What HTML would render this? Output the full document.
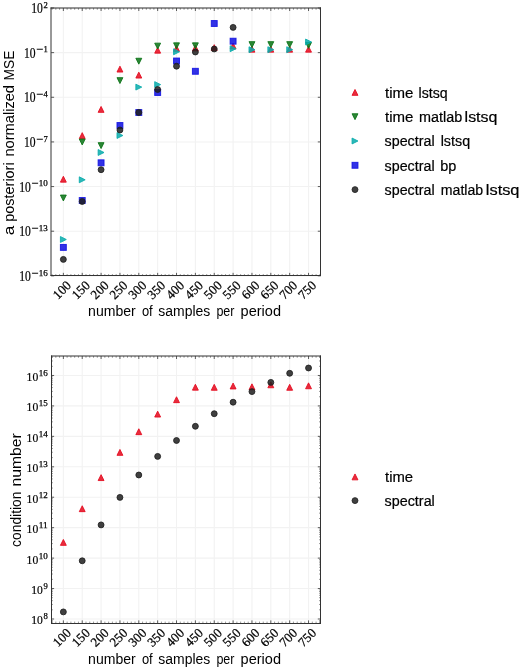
<!DOCTYPE html>
<html><head><meta charset="utf-8"><title>plot</title>
<style>html,body{margin:0;padding:0;background:#fff}svg{display:block}</style></head>
<body><svg width="520" height="669" viewBox="0 0 520 669">
<rect width="520" height="669" fill="#fff"/>
<line x1="63.36" y1="8.0" x2="63.36" y2="275.85" stroke="#f2f2f2" stroke-width="1.1"/>
<line x1="82.22" y1="8.0" x2="82.22" y2="275.85" stroke="#f2f2f2" stroke-width="1.1"/>
<line x1="101.08" y1="8.0" x2="101.08" y2="275.85" stroke="#f2f2f2" stroke-width="1.1"/>
<line x1="119.94" y1="8.0" x2="119.94" y2="275.85" stroke="#f2f2f2" stroke-width="1.1"/>
<line x1="138.80" y1="8.0" x2="138.80" y2="275.85" stroke="#f2f2f2" stroke-width="1.1"/>
<line x1="157.66" y1="8.0" x2="157.66" y2="275.85" stroke="#f2f2f2" stroke-width="1.1"/>
<line x1="176.52" y1="8.0" x2="176.52" y2="275.85" stroke="#f2f2f2" stroke-width="1.1"/>
<line x1="195.38" y1="8.0" x2="195.38" y2="275.85" stroke="#f2f2f2" stroke-width="1.1"/>
<line x1="214.24" y1="8.0" x2="214.24" y2="275.85" stroke="#f2f2f2" stroke-width="1.1"/>
<line x1="233.10" y1="8.0" x2="233.10" y2="275.85" stroke="#f2f2f2" stroke-width="1.1"/>
<line x1="251.96" y1="8.0" x2="251.96" y2="275.85" stroke="#f2f2f2" stroke-width="1.1"/>
<line x1="270.82" y1="8.0" x2="270.82" y2="275.85" stroke="#f2f2f2" stroke-width="1.1"/>
<line x1="289.68" y1="8.0" x2="289.68" y2="275.85" stroke="#f2f2f2" stroke-width="1.1"/>
<line x1="308.54" y1="8.0" x2="308.54" y2="275.85" stroke="#f2f2f2" stroke-width="1.1"/>
<line x1="51.1" y1="8.00" x2="320.8" y2="8.00" stroke="#f2f2f2" stroke-width="1.1"/>
<line x1="51.1" y1="52.64" x2="320.8" y2="52.64" stroke="#f2f2f2" stroke-width="1.1"/>
<line x1="51.1" y1="97.28" x2="320.8" y2="97.28" stroke="#f2f2f2" stroke-width="1.1"/>
<line x1="51.1" y1="141.93" x2="320.8" y2="141.93" stroke="#f2f2f2" stroke-width="1.1"/>
<line x1="51.1" y1="186.57" x2="320.8" y2="186.57" stroke="#f2f2f2" stroke-width="1.1"/>
<line x1="51.1" y1="231.21" x2="320.8" y2="231.21" stroke="#f2f2f2" stroke-width="1.1"/>
<line x1="51.1" y1="275.85" x2="320.8" y2="275.85" stroke="#f2f2f2" stroke-width="1.1"/>
<polygon points="63.36,176.25 60.41,182.15 66.31,182.15" fill="#e4081c" fill-opacity="0.85" stroke="#e4081c" stroke-opacity="0.85" stroke-width="1"/>
<polygon points="82.22,132.65 79.27,138.55 85.17,138.55" fill="#e4081c" fill-opacity="0.85" stroke="#e4081c" stroke-opacity="0.85" stroke-width="1"/>
<polygon points="101.08,106.45 98.13,112.35 104.03,112.35" fill="#e4081c" fill-opacity="0.85" stroke="#e4081c" stroke-opacity="0.85" stroke-width="1"/>
<polygon points="119.94,66.15 116.99,72.05 122.89,72.05" fill="#e4081c" fill-opacity="0.85" stroke="#e4081c" stroke-opacity="0.85" stroke-width="1"/>
<polygon points="138.80,72.15 135.85,78.05 141.75,78.05" fill="#e4081c" fill-opacity="0.85" stroke="#e4081c" stroke-opacity="0.85" stroke-width="1"/>
<polygon points="157.66,47.25 154.71,53.15 160.61,53.15" fill="#e4081c" fill-opacity="0.85" stroke="#e4081c" stroke-opacity="0.85" stroke-width="1"/>
<polygon points="176.52,45.45 173.57,51.35 179.47,51.35" fill="#e4081c" fill-opacity="0.85" stroke="#e4081c" stroke-opacity="0.85" stroke-width="1"/>
<polygon points="195.38,45.05 192.43,50.95 198.33,50.95" fill="#e4081c" fill-opacity="0.85" stroke="#e4081c" stroke-opacity="0.85" stroke-width="1"/>
<polygon points="214.24,44.65 211.29,50.55 217.19,50.55" fill="#e4081c" fill-opacity="0.85" stroke="#e4081c" stroke-opacity="0.85" stroke-width="1"/>
<polygon points="233.10,43.05 230.15,48.95 236.05,48.95" fill="#e4081c" fill-opacity="0.85" stroke="#e4081c" stroke-opacity="0.85" stroke-width="1"/>
<polygon points="251.96,46.25 249.01,52.15 254.91,52.15" fill="#e4081c" fill-opacity="0.85" stroke="#e4081c" stroke-opacity="0.85" stroke-width="1"/>
<polygon points="270.82,46.25 267.87,52.15 273.77,52.15" fill="#e4081c" fill-opacity="0.85" stroke="#e4081c" stroke-opacity="0.85" stroke-width="1"/>
<polygon points="289.68,46.25 286.73,52.15 292.63,52.15" fill="#e4081c" fill-opacity="0.85" stroke="#e4081c" stroke-opacity="0.85" stroke-width="1"/>
<polygon points="308.54,46.25 305.59,52.15 311.49,52.15" fill="#e4081c" fill-opacity="0.85" stroke="#e4081c" stroke-opacity="0.85" stroke-width="1"/>
<polygon points="63.36,200.95 60.41,195.05 66.31,195.05" fill="#087214" fill-opacity="0.85" stroke="#087214" stroke-opacity="0.85" stroke-width="1"/>
<polygon points="82.22,144.95 79.27,139.05 85.17,139.05" fill="#087214" fill-opacity="0.85" stroke="#087214" stroke-opacity="0.85" stroke-width="1"/>
<polygon points="101.08,148.55 98.13,142.65 104.03,142.65" fill="#087214" fill-opacity="0.85" stroke="#087214" stroke-opacity="0.85" stroke-width="1"/>
<polygon points="119.94,83.55 116.99,77.65 122.89,77.65" fill="#087214" fill-opacity="0.85" stroke="#087214" stroke-opacity="0.85" stroke-width="1"/>
<polygon points="138.80,64.15 135.85,58.25 141.75,58.25" fill="#087214" fill-opacity="0.85" stroke="#087214" stroke-opacity="0.85" stroke-width="1"/>
<polygon points="157.66,49.05 154.71,43.15 160.61,43.15" fill="#087214" fill-opacity="0.85" stroke="#087214" stroke-opacity="0.85" stroke-width="1"/>
<polygon points="176.52,48.75 173.57,42.85 179.47,42.85" fill="#087214" fill-opacity="0.85" stroke="#087214" stroke-opacity="0.85" stroke-width="1"/>
<polygon points="195.38,48.75 192.43,42.85 198.33,42.85" fill="#087214" fill-opacity="0.85" stroke="#087214" stroke-opacity="0.85" stroke-width="1"/>
<polygon points="251.96,47.55 249.01,41.65 254.91,41.65" fill="#087214" fill-opacity="0.85" stroke="#087214" stroke-opacity="0.85" stroke-width="1"/>
<polygon points="270.82,47.55 267.87,41.65 273.77,41.65" fill="#087214" fill-opacity="0.85" stroke="#087214" stroke-opacity="0.85" stroke-width="1"/>
<polygon points="289.68,47.55 286.73,41.65 292.63,41.65" fill="#087214" fill-opacity="0.85" stroke="#087214" stroke-opacity="0.85" stroke-width="1"/>
<polygon points="308.54,48.35 305.59,42.45 311.49,42.45" fill="#087214" fill-opacity="0.85" stroke="#087214" stroke-opacity="0.85" stroke-width="1"/>
<polygon points="66.31,239.50 60.41,236.55 60.41,242.45" fill="#08acac" fill-opacity="0.85" stroke="#08acac" stroke-opacity="0.85" stroke-width="1"/>
<polygon points="85.17,179.80 79.27,176.85 79.27,182.75" fill="#08acac" fill-opacity="0.85" stroke="#08acac" stroke-opacity="0.85" stroke-width="1"/>
<polygon points="104.03,152.50 98.13,149.55 98.13,155.45" fill="#08acac" fill-opacity="0.85" stroke="#08acac" stroke-opacity="0.85" stroke-width="1"/>
<polygon points="122.89,135.50 116.99,132.55 116.99,138.45" fill="#08acac" fill-opacity="0.85" stroke="#08acac" stroke-opacity="0.85" stroke-width="1"/>
<polygon points="141.75,87.10 135.85,84.15 135.85,90.05" fill="#08acac" fill-opacity="0.85" stroke="#08acac" stroke-opacity="0.85" stroke-width="1"/>
<polygon points="160.61,84.60 154.71,81.65 154.71,87.55" fill="#08acac" fill-opacity="0.85" stroke="#08acac" stroke-opacity="0.85" stroke-width="1"/>
<polygon points="179.47,51.80 173.57,48.85 173.57,54.75" fill="#08acac" fill-opacity="0.85" stroke="#08acac" stroke-opacity="0.85" stroke-width="1"/>
<polygon points="236.05,48.70 230.15,45.75 230.15,51.65" fill="#08acac" fill-opacity="0.85" stroke="#08acac" stroke-opacity="0.85" stroke-width="1"/>
<polygon points="254.91,49.70 249.01,46.75 249.01,52.65" fill="#08acac" fill-opacity="0.85" stroke="#08acac" stroke-opacity="0.85" stroke-width="1"/>
<polygon points="273.77,49.70 267.87,46.75 267.87,52.65" fill="#08acac" fill-opacity="0.85" stroke="#08acac" stroke-opacity="0.85" stroke-width="1"/>
<polygon points="292.63,49.70 286.73,46.75 286.73,52.65" fill="#08acac" fill-opacity="0.85" stroke="#08acac" stroke-opacity="0.85" stroke-width="1"/>
<polygon points="311.49,42.00 305.59,39.05 305.59,44.95" fill="#08acac" fill-opacity="0.85" stroke="#08acac" stroke-opacity="0.85" stroke-width="1"/>
<rect x="60.41" y="244.45" width="5.90" height="5.90" fill="#0e0ee2" fill-opacity="0.85" stroke="#0e0ee2" stroke-opacity="0.85" stroke-width="1"/>
<rect x="79.27" y="197.55" width="5.90" height="5.90" fill="#0e0ee2" fill-opacity="0.85" stroke="#0e0ee2" stroke-opacity="0.85" stroke-width="1"/>
<rect x="98.13" y="159.85" width="5.90" height="5.90" fill="#0e0ee2" fill-opacity="0.85" stroke="#0e0ee2" stroke-opacity="0.85" stroke-width="1"/>
<rect x="116.99" y="122.55" width="5.90" height="5.90" fill="#0e0ee2" fill-opacity="0.85" stroke="#0e0ee2" stroke-opacity="0.85" stroke-width="1"/>
<rect x="135.85" y="109.55" width="5.90" height="5.90" fill="#0e0ee2" fill-opacity="0.85" stroke="#0e0ee2" stroke-opacity="0.85" stroke-width="1"/>
<rect x="154.71" y="89.55" width="5.90" height="5.90" fill="#0e0ee2" fill-opacity="0.85" stroke="#0e0ee2" stroke-opacity="0.85" stroke-width="1"/>
<rect x="173.57" y="58.05" width="5.90" height="5.90" fill="#0e0ee2" fill-opacity="0.85" stroke="#0e0ee2" stroke-opacity="0.85" stroke-width="1"/>
<rect x="192.43" y="68.35" width="5.90" height="5.90" fill="#0e0ee2" fill-opacity="0.85" stroke="#0e0ee2" stroke-opacity="0.85" stroke-width="1"/>
<rect x="211.29" y="20.55" width="5.90" height="5.90" fill="#0e0ee2" fill-opacity="0.85" stroke="#0e0ee2" stroke-opacity="0.85" stroke-width="1"/>
<rect x="230.15" y="38.25" width="5.90" height="5.90" fill="#0e0ee2" fill-opacity="0.85" stroke="#0e0ee2" stroke-opacity="0.85" stroke-width="1"/>
<circle cx="63.36" cy="259.40" r="2.95" fill="#1f1f1f" fill-opacity="0.85" stroke="#1f1f1f" stroke-opacity="0.85" stroke-width="1"/>
<circle cx="82.22" cy="201.50" r="2.95" fill="#1f1f1f" fill-opacity="0.85" stroke="#1f1f1f" stroke-opacity="0.85" stroke-width="1"/>
<circle cx="101.08" cy="169.70" r="2.95" fill="#1f1f1f" fill-opacity="0.85" stroke="#1f1f1f" stroke-opacity="0.85" stroke-width="1"/>
<circle cx="119.94" cy="130.00" r="2.95" fill="#1f1f1f" fill-opacity="0.85" stroke="#1f1f1f" stroke-opacity="0.85" stroke-width="1"/>
<circle cx="138.80" cy="112.50" r="2.95" fill="#1f1f1f" fill-opacity="0.85" stroke="#1f1f1f" stroke-opacity="0.85" stroke-width="1"/>
<circle cx="157.66" cy="89.50" r="2.95" fill="#1f1f1f" fill-opacity="0.85" stroke="#1f1f1f" stroke-opacity="0.85" stroke-width="1"/>
<circle cx="176.52" cy="66.20" r="2.95" fill="#1f1f1f" fill-opacity="0.85" stroke="#1f1f1f" stroke-opacity="0.85" stroke-width="1"/>
<circle cx="195.38" cy="52.00" r="2.95" fill="#1f1f1f" fill-opacity="0.85" stroke="#1f1f1f" stroke-opacity="0.85" stroke-width="1"/>
<circle cx="214.24" cy="49.00" r="2.95" fill="#1f1f1f" fill-opacity="0.85" stroke="#1f1f1f" stroke-opacity="0.85" stroke-width="1"/>
<circle cx="233.10" cy="27.40" r="2.95" fill="#1f1f1f" fill-opacity="0.85" stroke="#1f1f1f" stroke-opacity="0.85" stroke-width="1"/>
<path d="M63.36 275.85v-3M63.36 8.0v3M82.22 275.85v-3M82.22 8.0v3M101.08 275.85v-3M101.08 8.0v3M119.94 275.85v-3M119.94 8.0v3M138.80 275.85v-3M138.80 8.0v3M157.66 275.85v-3M157.66 8.0v3M176.52 275.85v-3M176.52 8.0v3M195.38 275.85v-3M195.38 8.0v3M214.24 275.85v-3M214.24 8.0v3M233.10 275.85v-3M233.10 8.0v3M251.96 275.85v-3M251.96 8.0v3M270.82 275.85v-3M270.82 8.0v3M289.68 275.85v-3M289.68 8.0v3M308.54 275.85v-3M308.54 8.0v3M51.1 8.00h3M320.8 8.00h-3M51.1 52.64h3M320.8 52.64h-3M51.1 97.28h3M320.8 97.28h-3M51.1 141.93h3M320.8 141.93h-3M51.1 186.57h3M320.8 186.57h-3M51.1 231.21h3M320.8 231.21h-3M51.1 275.85h3M320.8 275.85h-3" stroke="#333" stroke-width="0.8" fill="none"/>
<path d="M52.04 275.85v-1.8M52.04 8.0v1.8M55.82 275.85v-1.8M55.82 8.0v1.8M59.59 275.85v-1.8M59.59 8.0v1.8M67.13 275.85v-1.8M67.13 8.0v1.8M70.90 275.85v-1.8M70.90 8.0v1.8M74.68 275.85v-1.8M74.68 8.0v1.8M78.45 275.85v-1.8M78.45 8.0v1.8M85.99 275.85v-1.8M85.99 8.0v1.8M89.76 275.85v-1.8M89.76 8.0v1.8M93.54 275.85v-1.8M93.54 8.0v1.8M97.31 275.85v-1.8M97.31 8.0v1.8M104.85 275.85v-1.8M104.85 8.0v1.8M108.62 275.85v-1.8M108.62 8.0v1.8M112.40 275.85v-1.8M112.40 8.0v1.8M116.17 275.85v-1.8M116.17 8.0v1.8M123.71 275.85v-1.8M123.71 8.0v1.8M127.48 275.85v-1.8M127.48 8.0v1.8M131.26 275.85v-1.8M131.26 8.0v1.8M135.03 275.85v-1.8M135.03 8.0v1.8M142.57 275.85v-1.8M142.57 8.0v1.8M146.34 275.85v-1.8M146.34 8.0v1.8M150.12 275.85v-1.8M150.12 8.0v1.8M153.89 275.85v-1.8M153.89 8.0v1.8M161.43 275.85v-1.8M161.43 8.0v1.8M165.20 275.85v-1.8M165.20 8.0v1.8M168.98 275.85v-1.8M168.98 8.0v1.8M172.75 275.85v-1.8M172.75 8.0v1.8M180.29 275.85v-1.8M180.29 8.0v1.8M184.06 275.85v-1.8M184.06 8.0v1.8M187.84 275.85v-1.8M187.84 8.0v1.8M191.61 275.85v-1.8M191.61 8.0v1.8M199.15 275.85v-1.8M199.15 8.0v1.8M202.92 275.85v-1.8M202.92 8.0v1.8M206.70 275.85v-1.8M206.70 8.0v1.8M210.47 275.85v-1.8M210.47 8.0v1.8M218.01 275.85v-1.8M218.01 8.0v1.8M221.78 275.85v-1.8M221.78 8.0v1.8M225.56 275.85v-1.8M225.56 8.0v1.8M229.33 275.85v-1.8M229.33 8.0v1.8M236.87 275.85v-1.8M236.87 8.0v1.8M240.64 275.85v-1.8M240.64 8.0v1.8M244.42 275.85v-1.8M244.42 8.0v1.8M248.19 275.85v-1.8M248.19 8.0v1.8M255.73 275.85v-1.8M255.73 8.0v1.8M259.50 275.85v-1.8M259.50 8.0v1.8M263.28 275.85v-1.8M263.28 8.0v1.8M267.05 275.85v-1.8M267.05 8.0v1.8M274.59 275.85v-1.8M274.59 8.0v1.8M278.36 275.85v-1.8M278.36 8.0v1.8M282.14 275.85v-1.8M282.14 8.0v1.8M285.91 275.85v-1.8M285.91 8.0v1.8M293.45 275.85v-1.8M293.45 8.0v1.8M297.22 275.85v-1.8M297.22 8.0v1.8M301.00 275.85v-1.8M301.00 8.0v1.8M304.77 275.85v-1.8M304.77 8.0v1.8M312.31 275.85v-1.8M312.31 8.0v1.8M316.08 275.85v-1.8M316.08 8.0v1.8M319.86 275.85v-1.8M319.86 8.0v1.8" stroke="#555" stroke-width="0.6" fill="none"/>
<path d="M51.0 7.5V276.0M320.5 7.5V276.0M50.5 8.0H321.0M50.5 275.5H321.0" stroke="#333" stroke-width="1" fill="none"/>
<text x="43.40" y="7.70" textLength="4.3" lengthAdjust="spacingAndGlyphs" style="font-family:'Liberation Serif',serif;font-size:9px" stroke="#000" stroke-width="0.25">2</text>
<text x="31.30" y="13.20" textLength="11.6" lengthAdjust="spacingAndGlyphs" style="font-family:'Liberation Serif',serif;font-size:13.6px" stroke="#000" stroke-width="0.2">10</text>
<text x="43.40" y="52.34" textLength="4.3" lengthAdjust="spacingAndGlyphs" style="font-family:'Liberation Serif',serif;font-size:9px" stroke="#000" stroke-width="0.25">1</text>
<text x="36.00" y="52.34" textLength="7.0" lengthAdjust="spacingAndGlyphs" style="font-family:'Liberation Serif',serif;font-size:9px" stroke="#000" stroke-width="0.3">−</text>
<text x="23.90" y="57.84" textLength="11.6" lengthAdjust="spacingAndGlyphs" style="font-family:'Liberation Serif',serif;font-size:13.6px" stroke="#000" stroke-width="0.2">10</text>
<text x="43.40" y="96.98" textLength="4.3" lengthAdjust="spacingAndGlyphs" style="font-family:'Liberation Serif',serif;font-size:9px" stroke="#000" stroke-width="0.25">4</text>
<text x="36.00" y="96.98" textLength="7.0" lengthAdjust="spacingAndGlyphs" style="font-family:'Liberation Serif',serif;font-size:9px" stroke="#000" stroke-width="0.3">−</text>
<text x="23.90" y="102.48" textLength="11.6" lengthAdjust="spacingAndGlyphs" style="font-family:'Liberation Serif',serif;font-size:13.6px" stroke="#000" stroke-width="0.2">10</text>
<text x="43.40" y="141.62" textLength="4.3" lengthAdjust="spacingAndGlyphs" style="font-family:'Liberation Serif',serif;font-size:9px" stroke="#000" stroke-width="0.25">7</text>
<text x="36.00" y="141.62" textLength="7.0" lengthAdjust="spacingAndGlyphs" style="font-family:'Liberation Serif',serif;font-size:9px" stroke="#000" stroke-width="0.3">−</text>
<text x="23.90" y="147.12" textLength="11.6" lengthAdjust="spacingAndGlyphs" style="font-family:'Liberation Serif',serif;font-size:13.6px" stroke="#000" stroke-width="0.2">10</text>
<text x="38.70" y="186.27" textLength="9.0" lengthAdjust="spacingAndGlyphs" style="font-family:'Liberation Serif',serif;font-size:9px" stroke="#000" stroke-width="0.25">10</text>
<text x="31.30" y="186.27" textLength="7.0" lengthAdjust="spacingAndGlyphs" style="font-family:'Liberation Serif',serif;font-size:9px" stroke="#000" stroke-width="0.3">−</text>
<text x="19.20" y="191.77" textLength="11.6" lengthAdjust="spacingAndGlyphs" style="font-family:'Liberation Serif',serif;font-size:13.6px" stroke="#000" stroke-width="0.2">10</text>
<text x="38.70" y="230.91" textLength="9.0" lengthAdjust="spacingAndGlyphs" style="font-family:'Liberation Serif',serif;font-size:9px" stroke="#000" stroke-width="0.25">13</text>
<text x="31.30" y="230.91" textLength="7.0" lengthAdjust="spacingAndGlyphs" style="font-family:'Liberation Serif',serif;font-size:9px" stroke="#000" stroke-width="0.3">−</text>
<text x="19.20" y="236.41" textLength="11.6" lengthAdjust="spacingAndGlyphs" style="font-family:'Liberation Serif',serif;font-size:13.6px" stroke="#000" stroke-width="0.2">10</text>
<text x="38.70" y="275.55" textLength="9.0" lengthAdjust="spacingAndGlyphs" style="font-family:'Liberation Serif',serif;font-size:9px" stroke="#000" stroke-width="0.25">16</text>
<text x="31.30" y="275.55" textLength="7.0" lengthAdjust="spacingAndGlyphs" style="font-family:'Liberation Serif',serif;font-size:9px" stroke="#000" stroke-width="0.3">−</text>
<text x="19.20" y="281.05" textLength="11.6" lengthAdjust="spacingAndGlyphs" style="font-family:'Liberation Serif',serif;font-size:13.6px" stroke="#000" stroke-width="0.2">10</text>
<text transform="translate(61.86,289.95) rotate(-45)" text-anchor="middle" dy="4.4" style="font-family:'Liberation Serif',serif;font-size:13px" stroke="#000" stroke-width="0.25">100</text>
<text transform="translate(80.72,289.95) rotate(-45)" text-anchor="middle" dy="4.4" style="font-family:'Liberation Serif',serif;font-size:13px" stroke="#000" stroke-width="0.25">150</text>
<text transform="translate(99.58,289.95) rotate(-45)" text-anchor="middle" dy="4.4" style="font-family:'Liberation Serif',serif;font-size:13px" stroke="#000" stroke-width="0.25">200</text>
<text transform="translate(118.44,289.95) rotate(-45)" text-anchor="middle" dy="4.4" style="font-family:'Liberation Serif',serif;font-size:13px" stroke="#000" stroke-width="0.25">250</text>
<text transform="translate(137.30,289.95) rotate(-45)" text-anchor="middle" dy="4.4" style="font-family:'Liberation Serif',serif;font-size:13px" stroke="#000" stroke-width="0.25">300</text>
<text transform="translate(156.16,289.95) rotate(-45)" text-anchor="middle" dy="4.4" style="font-family:'Liberation Serif',serif;font-size:13px" stroke="#000" stroke-width="0.25">350</text>
<text transform="translate(175.02,289.95) rotate(-45)" text-anchor="middle" dy="4.4" style="font-family:'Liberation Serif',serif;font-size:13px" stroke="#000" stroke-width="0.25">400</text>
<text transform="translate(193.88,289.95) rotate(-45)" text-anchor="middle" dy="4.4" style="font-family:'Liberation Serif',serif;font-size:13px" stroke="#000" stroke-width="0.25">450</text>
<text transform="translate(212.74,289.95) rotate(-45)" text-anchor="middle" dy="4.4" style="font-family:'Liberation Serif',serif;font-size:13px" stroke="#000" stroke-width="0.25">500</text>
<text transform="translate(231.60,289.95) rotate(-45)" text-anchor="middle" dy="4.4" style="font-family:'Liberation Serif',serif;font-size:13px" stroke="#000" stroke-width="0.25">550</text>
<text transform="translate(250.46,289.95) rotate(-45)" text-anchor="middle" dy="4.4" style="font-family:'Liberation Serif',serif;font-size:13px" stroke="#000" stroke-width="0.25">600</text>
<text transform="translate(269.32,289.95) rotate(-45)" text-anchor="middle" dy="4.4" style="font-family:'Liberation Serif',serif;font-size:13px" stroke="#000" stroke-width="0.25">650</text>
<text transform="translate(288.18,289.95) rotate(-45)" text-anchor="middle" dy="4.4" style="font-family:'Liberation Serif',serif;font-size:13px" stroke="#000" stroke-width="0.25">700</text>
<text transform="translate(307.04,289.95) rotate(-45)" text-anchor="middle" dy="4.4" style="font-family:'Liberation Serif',serif;font-size:13px" stroke="#000" stroke-width="0.25">750</text>
<text x="88.10" y="316.45" textLength="47.70" lengthAdjust="spacingAndGlyphs" style="font-family:'Liberation Sans',sans-serif;font-size:13.8px">number</text>
<text x="141.90" y="316.45" textLength="10.80" lengthAdjust="spacingAndGlyphs" style="font-family:'Liberation Sans',sans-serif;font-size:13.8px">of</text>
<text x="158.30" y="316.45" textLength="52.00" lengthAdjust="spacingAndGlyphs" style="font-family:'Liberation Sans',sans-serif;font-size:13.8px">samples</text>
<text x="216.40" y="316.45" textLength="18.10" lengthAdjust="spacingAndGlyphs" style="font-family:'Liberation Sans',sans-serif;font-size:13.8px">per</text>
<text x="240.60" y="316.45" textLength="40.40" lengthAdjust="spacingAndGlyphs" style="font-family:'Liberation Sans',sans-serif;font-size:13.8px">period</text>
<g transform="translate(13.9,0) rotate(-90)">
<text x="-235.20" y="0" textLength="9.60" lengthAdjust="spacingAndGlyphs" style="font-family:'Liberation Sans',sans-serif;font-size:14.5px">a</text>
<text x="-221.70" y="0" textLength="59.30" lengthAdjust="spacingAndGlyphs" style="font-family:'Liberation Sans',sans-serif;font-size:14.5px">posteriori</text>
<text x="-156.60" y="0" textLength="71.60" lengthAdjust="spacingAndGlyphs" style="font-family:'Liberation Sans',sans-serif;font-size:14.5px">normalized</text>
<text x="-80.40" y="0" textLength="29.90" lengthAdjust="spacingAndGlyphs" style="font-family:'Liberation Sans',sans-serif;font-size:14.5px">MSE</text>
</g>
<polygon points="355.00,89.45 352.05,95.35 357.95,95.35" fill="#e4081c" fill-opacity="0.85" stroke="#e4081c" stroke-opacity="0.85" stroke-width="1"/>
<text x="385.00" y="97.80" textLength="28.40" lengthAdjust="spacingAndGlyphs" style="font-family:'Liberation Sans',sans-serif;font-size:14px" stroke="#000" stroke-width="0.2">time</text>
<text x="418.60" y="97.80" textLength="29.10" lengthAdjust="spacingAndGlyphs" style="font-family:'Liberation Sans',sans-serif;font-size:14px" stroke="#000" stroke-width="0.2">lstsq</text>
<polygon points="355.00,119.65 352.05,113.75 357.95,113.75" fill="#087214" fill-opacity="0.85" stroke="#087214" stroke-opacity="0.85" stroke-width="1"/>
<text x="385.00" y="122.10" textLength="28.40" lengthAdjust="spacingAndGlyphs" style="font-family:'Liberation Sans',sans-serif;font-size:14px" stroke="#000" stroke-width="0.2">time</text>
<text x="419.10" y="122.10" textLength="43.20" lengthAdjust="spacingAndGlyphs" style="font-family:'Liberation Sans',sans-serif;font-size:14px" stroke="#000" stroke-width="0.2">matlab</text>
<text x="464.60" y="122.10" textLength="32.80" lengthAdjust="spacingAndGlyphs" style="font-family:'Liberation Sans',sans-serif;font-size:14px" stroke="#000" stroke-width="0.2">lstsq</text>
<polygon points="357.95,141.00 352.05,138.05 352.05,143.95" fill="#08acac" fill-opacity="0.85" stroke="#08acac" stroke-opacity="0.85" stroke-width="1"/>
<text x="384.60" y="146.40" textLength="50.00" lengthAdjust="spacingAndGlyphs" style="font-family:'Liberation Sans',sans-serif;font-size:14px" stroke="#000" stroke-width="0.2">spectral</text>
<text x="440.70" y="146.40" textLength="29.40" lengthAdjust="spacingAndGlyphs" style="font-family:'Liberation Sans',sans-serif;font-size:14px" stroke="#000" stroke-width="0.2">lstsq</text>
<rect x="352.05" y="162.35" width="5.90" height="5.90" fill="#0e0ee2" fill-opacity="0.85" stroke="#0e0ee2" stroke-opacity="0.85" stroke-width="1"/>
<text x="384.60" y="170.70" textLength="50.00" lengthAdjust="spacingAndGlyphs" style="font-family:'Liberation Sans',sans-serif;font-size:14px" stroke="#000" stroke-width="0.2">spectral</text>
<text x="440.30" y="170.70" textLength="16.10" lengthAdjust="spacingAndGlyphs" style="font-family:'Liberation Sans',sans-serif;font-size:14px" stroke="#000" stroke-width="0.2">bp</text>
<circle cx="355.00" cy="189.60" r="2.95" fill="#1f1f1f" fill-opacity="0.85" stroke="#1f1f1f" stroke-opacity="0.85" stroke-width="1"/>
<text x="384.60" y="195.00" textLength="50.00" lengthAdjust="spacingAndGlyphs" style="font-family:'Liberation Sans',sans-serif;font-size:14px" stroke="#000" stroke-width="0.2">spectral</text>
<text x="440.80" y="195.00" textLength="42.40" lengthAdjust="spacingAndGlyphs" style="font-family:'Liberation Sans',sans-serif;font-size:14px" stroke="#000" stroke-width="0.2">matlab</text>
<text x="485.80" y="195.00" textLength="33.70" lengthAdjust="spacingAndGlyphs" style="font-family:'Liberation Sans',sans-serif;font-size:14px" stroke="#000" stroke-width="0.2">lstsq</text>
<line x1="63.36" y1="356.0" x2="63.36" y2="623.4" stroke="#f2f2f2" stroke-width="1.1"/>
<line x1="82.22" y1="356.0" x2="82.22" y2="623.4" stroke="#f2f2f2" stroke-width="1.1"/>
<line x1="101.08" y1="356.0" x2="101.08" y2="623.4" stroke="#f2f2f2" stroke-width="1.1"/>
<line x1="119.94" y1="356.0" x2="119.94" y2="623.4" stroke="#f2f2f2" stroke-width="1.1"/>
<line x1="138.80" y1="356.0" x2="138.80" y2="623.4" stroke="#f2f2f2" stroke-width="1.1"/>
<line x1="157.66" y1="356.0" x2="157.66" y2="623.4" stroke="#f2f2f2" stroke-width="1.1"/>
<line x1="176.52" y1="356.0" x2="176.52" y2="623.4" stroke="#f2f2f2" stroke-width="1.1"/>
<line x1="195.38" y1="356.0" x2="195.38" y2="623.4" stroke="#f2f2f2" stroke-width="1.1"/>
<line x1="214.24" y1="356.0" x2="214.24" y2="623.4" stroke="#f2f2f2" stroke-width="1.1"/>
<line x1="233.10" y1="356.0" x2="233.10" y2="623.4" stroke="#f2f2f2" stroke-width="1.1"/>
<line x1="251.96" y1="356.0" x2="251.96" y2="623.4" stroke="#f2f2f2" stroke-width="1.1"/>
<line x1="270.82" y1="356.0" x2="270.82" y2="623.4" stroke="#f2f2f2" stroke-width="1.1"/>
<line x1="289.68" y1="356.0" x2="289.68" y2="623.4" stroke="#f2f2f2" stroke-width="1.1"/>
<line x1="308.54" y1="356.0" x2="308.54" y2="623.4" stroke="#f2f2f2" stroke-width="1.1"/>
<line x1="51.1" y1="618.99" x2="320.8" y2="618.99" stroke="#f2f2f2" stroke-width="1.1"/>
<line x1="51.1" y1="588.55" x2="320.8" y2="588.55" stroke="#f2f2f2" stroke-width="1.1"/>
<line x1="51.1" y1="558.11" x2="320.8" y2="558.11" stroke="#f2f2f2" stroke-width="1.1"/>
<line x1="51.1" y1="527.67" x2="320.8" y2="527.67" stroke="#f2f2f2" stroke-width="1.1"/>
<line x1="51.1" y1="497.23" x2="320.8" y2="497.23" stroke="#f2f2f2" stroke-width="1.1"/>
<line x1="51.1" y1="466.80" x2="320.8" y2="466.80" stroke="#f2f2f2" stroke-width="1.1"/>
<line x1="51.1" y1="436.36" x2="320.8" y2="436.36" stroke="#f2f2f2" stroke-width="1.1"/>
<line x1="51.1" y1="405.92" x2="320.8" y2="405.92" stroke="#f2f2f2" stroke-width="1.1"/>
<line x1="51.1" y1="375.48" x2="320.8" y2="375.48" stroke="#f2f2f2" stroke-width="1.1"/>
<polygon points="63.36,539.45 60.41,545.35 66.31,545.35" fill="#e4081c" fill-opacity="0.85" stroke="#e4081c" stroke-opacity="0.85" stroke-width="1"/>
<polygon points="82.22,505.75 79.27,511.65 85.17,511.65" fill="#e4081c" fill-opacity="0.85" stroke="#e4081c" stroke-opacity="0.85" stroke-width="1"/>
<polygon points="101.08,474.65 98.13,480.55 104.03,480.55" fill="#e4081c" fill-opacity="0.85" stroke="#e4081c" stroke-opacity="0.85" stroke-width="1"/>
<polygon points="119.94,449.45 116.99,455.35 122.89,455.35" fill="#e4081c" fill-opacity="0.85" stroke="#e4081c" stroke-opacity="0.85" stroke-width="1"/>
<polygon points="138.80,428.75 135.85,434.65 141.75,434.65" fill="#e4081c" fill-opacity="0.85" stroke="#e4081c" stroke-opacity="0.85" stroke-width="1"/>
<polygon points="157.66,411.15 154.71,417.05 160.61,417.05" fill="#e4081c" fill-opacity="0.85" stroke="#e4081c" stroke-opacity="0.85" stroke-width="1"/>
<polygon points="176.52,396.75 173.57,402.65 179.47,402.65" fill="#e4081c" fill-opacity="0.85" stroke="#e4081c" stroke-opacity="0.85" stroke-width="1"/>
<polygon points="195.38,384.25 192.43,390.15 198.33,390.15" fill="#e4081c" fill-opacity="0.85" stroke="#e4081c" stroke-opacity="0.85" stroke-width="1"/>
<polygon points="214.24,384.35 211.29,390.25 217.19,390.25" fill="#e4081c" fill-opacity="0.85" stroke="#e4081c" stroke-opacity="0.85" stroke-width="1"/>
<polygon points="233.10,383.05 230.15,388.95 236.05,388.95" fill="#e4081c" fill-opacity="0.85" stroke="#e4081c" stroke-opacity="0.85" stroke-width="1"/>
<polygon points="251.96,383.85 249.01,389.75 254.91,389.75" fill="#e4081c" fill-opacity="0.85" stroke="#e4081c" stroke-opacity="0.85" stroke-width="1"/>
<polygon points="270.82,381.85 267.87,387.75 273.77,387.75" fill="#e4081c" fill-opacity="0.85" stroke="#e4081c" stroke-opacity="0.85" stroke-width="1"/>
<polygon points="289.68,384.35 286.73,390.25 292.63,390.25" fill="#e4081c" fill-opacity="0.85" stroke="#e4081c" stroke-opacity="0.85" stroke-width="1"/>
<polygon points="308.54,382.85 305.59,388.75 311.49,388.75" fill="#e4081c" fill-opacity="0.85" stroke="#e4081c" stroke-opacity="0.85" stroke-width="1"/>
<circle cx="63.36" cy="611.90" r="2.95" fill="#1f1f1f" fill-opacity="0.85" stroke="#1f1f1f" stroke-opacity="0.85" stroke-width="1"/>
<circle cx="82.22" cy="560.80" r="2.95" fill="#1f1f1f" fill-opacity="0.85" stroke="#1f1f1f" stroke-opacity="0.85" stroke-width="1"/>
<circle cx="101.08" cy="524.90" r="2.95" fill="#1f1f1f" fill-opacity="0.85" stroke="#1f1f1f" stroke-opacity="0.85" stroke-width="1"/>
<circle cx="119.94" cy="497.40" r="2.95" fill="#1f1f1f" fill-opacity="0.85" stroke="#1f1f1f" stroke-opacity="0.85" stroke-width="1"/>
<circle cx="138.80" cy="475.00" r="2.95" fill="#1f1f1f" fill-opacity="0.85" stroke="#1f1f1f" stroke-opacity="0.85" stroke-width="1"/>
<circle cx="157.66" cy="456.40" r="2.95" fill="#1f1f1f" fill-opacity="0.85" stroke="#1f1f1f" stroke-opacity="0.85" stroke-width="1"/>
<circle cx="176.52" cy="440.50" r="2.95" fill="#1f1f1f" fill-opacity="0.85" stroke="#1f1f1f" stroke-opacity="0.85" stroke-width="1"/>
<circle cx="195.38" cy="426.30" r="2.95" fill="#1f1f1f" fill-opacity="0.85" stroke="#1f1f1f" stroke-opacity="0.85" stroke-width="1"/>
<circle cx="214.24" cy="413.70" r="2.95" fill="#1f1f1f" fill-opacity="0.85" stroke="#1f1f1f" stroke-opacity="0.85" stroke-width="1"/>
<circle cx="233.10" cy="402.20" r="2.95" fill="#1f1f1f" fill-opacity="0.85" stroke="#1f1f1f" stroke-opacity="0.85" stroke-width="1"/>
<circle cx="251.96" cy="391.60" r="2.95" fill="#1f1f1f" fill-opacity="0.85" stroke="#1f1f1f" stroke-opacity="0.85" stroke-width="1"/>
<circle cx="270.82" cy="382.40" r="2.95" fill="#1f1f1f" fill-opacity="0.85" stroke="#1f1f1f" stroke-opacity="0.85" stroke-width="1"/>
<circle cx="289.68" cy="373.30" r="2.95" fill="#1f1f1f" fill-opacity="0.85" stroke="#1f1f1f" stroke-opacity="0.85" stroke-width="1"/>
<circle cx="308.54" cy="368.00" r="2.95" fill="#1f1f1f" fill-opacity="0.85" stroke="#1f1f1f" stroke-opacity="0.85" stroke-width="1"/>
<path d="M63.36 623.4v-3M63.36 356.0v3M82.22 623.4v-3M82.22 356.0v3M101.08 623.4v-3M101.08 356.0v3M119.94 623.4v-3M119.94 356.0v3M138.80 623.4v-3M138.80 356.0v3M157.66 623.4v-3M157.66 356.0v3M176.52 623.4v-3M176.52 356.0v3M195.38 623.4v-3M195.38 356.0v3M214.24 623.4v-3M214.24 356.0v3M233.10 623.4v-3M233.10 356.0v3M251.96 623.4v-3M251.96 356.0v3M270.82 623.4v-3M270.82 356.0v3M289.68 623.4v-3M289.68 356.0v3M308.54 623.4v-3M308.54 356.0v3M51.1 618.99h3M320.8 618.99h-3M51.1 588.55h3M320.8 588.55h-3M51.1 558.11h3M320.8 558.11h-3M51.1 527.67h3M320.8 527.67h-3M51.1 497.23h3M320.8 497.23h-3M51.1 466.80h3M320.8 466.80h-3M51.1 436.36h3M320.8 436.36h-3M51.1 405.92h3M320.8 405.92h-3M51.1 375.48h3M320.8 375.48h-3" stroke="#333" stroke-width="0.8" fill="none"/>
<path d="M52.04 623.4v-1.8M52.04 356.0v1.8M55.82 623.4v-1.8M55.82 356.0v1.8M59.59 623.4v-1.8M59.59 356.0v1.8M67.13 623.4v-1.8M67.13 356.0v1.8M70.90 623.4v-1.8M70.90 356.0v1.8M74.68 623.4v-1.8M74.68 356.0v1.8M78.45 623.4v-1.8M78.45 356.0v1.8M85.99 623.4v-1.8M85.99 356.0v1.8M89.76 623.4v-1.8M89.76 356.0v1.8M93.54 623.4v-1.8M93.54 356.0v1.8M97.31 623.4v-1.8M97.31 356.0v1.8M104.85 623.4v-1.8M104.85 356.0v1.8M108.62 623.4v-1.8M108.62 356.0v1.8M112.40 623.4v-1.8M112.40 356.0v1.8M116.17 623.4v-1.8M116.17 356.0v1.8M123.71 623.4v-1.8M123.71 356.0v1.8M127.48 623.4v-1.8M127.48 356.0v1.8M131.26 623.4v-1.8M131.26 356.0v1.8M135.03 623.4v-1.8M135.03 356.0v1.8M142.57 623.4v-1.8M142.57 356.0v1.8M146.34 623.4v-1.8M146.34 356.0v1.8M150.12 623.4v-1.8M150.12 356.0v1.8M153.89 623.4v-1.8M153.89 356.0v1.8M161.43 623.4v-1.8M161.43 356.0v1.8M165.20 623.4v-1.8M165.20 356.0v1.8M168.98 623.4v-1.8M168.98 356.0v1.8M172.75 623.4v-1.8M172.75 356.0v1.8M180.29 623.4v-1.8M180.29 356.0v1.8M184.06 623.4v-1.8M184.06 356.0v1.8M187.84 623.4v-1.8M187.84 356.0v1.8M191.61 623.4v-1.8M191.61 356.0v1.8M199.15 623.4v-1.8M199.15 356.0v1.8M202.92 623.4v-1.8M202.92 356.0v1.8M206.70 623.4v-1.8M206.70 356.0v1.8M210.47 623.4v-1.8M210.47 356.0v1.8M218.01 623.4v-1.8M218.01 356.0v1.8M221.78 623.4v-1.8M221.78 356.0v1.8M225.56 623.4v-1.8M225.56 356.0v1.8M229.33 623.4v-1.8M229.33 356.0v1.8M236.87 623.4v-1.8M236.87 356.0v1.8M240.64 623.4v-1.8M240.64 356.0v1.8M244.42 623.4v-1.8M244.42 356.0v1.8M248.19 623.4v-1.8M248.19 356.0v1.8M255.73 623.4v-1.8M255.73 356.0v1.8M259.50 623.4v-1.8M259.50 356.0v1.8M263.28 623.4v-1.8M263.28 356.0v1.8M267.05 623.4v-1.8M267.05 356.0v1.8M274.59 623.4v-1.8M274.59 356.0v1.8M278.36 623.4v-1.8M278.36 356.0v1.8M282.14 623.4v-1.8M282.14 356.0v1.8M285.91 623.4v-1.8M285.91 356.0v1.8M293.45 623.4v-1.8M293.45 356.0v1.8M297.22 623.4v-1.8M297.22 356.0v1.8M301.00 623.4v-1.8M301.00 356.0v1.8M304.77 623.4v-1.8M304.77 356.0v1.8M312.31 623.4v-1.8M312.31 356.0v1.8M316.08 623.4v-1.8M316.08 356.0v1.8M319.86 623.4v-1.8M319.86 356.0v1.8M51.1 621.94h1.8M320.8 621.94h-1.8M51.1 620.38h1.8M320.8 620.38h-1.8M51.1 609.82h1.8M320.8 609.82h-1.8M51.1 604.46h1.8M320.8 604.46h-1.8M51.1 600.66h1.8M320.8 600.66h-1.8M51.1 597.71h1.8M320.8 597.71h-1.8M51.1 595.30h1.8M320.8 595.30h-1.8M51.1 593.26h1.8M320.8 593.26h-1.8M51.1 591.50h1.8M320.8 591.50h-1.8M51.1 589.94h1.8M320.8 589.94h-1.8M51.1 579.39h1.8M320.8 579.39h-1.8M51.1 574.03h1.8M320.8 574.03h-1.8M51.1 570.22h1.8M320.8 570.22h-1.8M51.1 567.27h1.8M320.8 567.27h-1.8M51.1 564.86h1.8M320.8 564.86h-1.8M51.1 562.82h1.8M320.8 562.82h-1.8M51.1 561.06h1.8M320.8 561.06h-1.8M51.1 559.50h1.8M320.8 559.50h-1.8M51.1 548.95h1.8M320.8 548.95h-1.8M51.1 543.59h1.8M320.8 543.59h-1.8M51.1 539.78h1.8M320.8 539.78h-1.8M51.1 536.83h1.8M320.8 536.83h-1.8M51.1 534.42h1.8M320.8 534.42h-1.8M51.1 532.39h1.8M320.8 532.39h-1.8M51.1 530.62h1.8M320.8 530.62h-1.8M51.1 529.06h1.8M320.8 529.06h-1.8M51.1 518.51h1.8M320.8 518.51h-1.8M51.1 513.15h1.8M320.8 513.15h-1.8M51.1 509.35h1.8M320.8 509.35h-1.8M51.1 506.40h1.8M320.8 506.40h-1.8M51.1 503.99h1.8M320.8 503.99h-1.8M51.1 501.95h1.8M320.8 501.95h-1.8M51.1 500.18h1.8M320.8 500.18h-1.8M51.1 498.63h1.8M320.8 498.63h-1.8M51.1 488.07h1.8M320.8 488.07h-1.8M51.1 482.71h1.8M320.8 482.71h-1.8M51.1 478.91h1.8M320.8 478.91h-1.8M51.1 475.96h1.8M320.8 475.96h-1.8M51.1 473.55h1.8M320.8 473.55h-1.8M51.1 471.51h1.8M320.8 471.51h-1.8M51.1 469.74h1.8M320.8 469.74h-1.8M51.1 468.19h1.8M320.8 468.19h-1.8M51.1 457.63h1.8M320.8 457.63h-1.8M51.1 452.27h1.8M320.8 452.27h-1.8M51.1 448.47h1.8M320.8 448.47h-1.8M51.1 445.52h1.8M320.8 445.52h-1.8M51.1 443.11h1.8M320.8 443.11h-1.8M51.1 441.07h1.8M320.8 441.07h-1.8M51.1 439.31h1.8M320.8 439.31h-1.8M51.1 437.75h1.8M320.8 437.75h-1.8M51.1 427.19h1.8M320.8 427.19h-1.8M51.1 421.83h1.8M320.8 421.83h-1.8M51.1 418.03h1.8M320.8 418.03h-1.8M51.1 415.08h1.8M320.8 415.08h-1.8M51.1 412.67h1.8M320.8 412.67h-1.8M51.1 410.63h1.8M320.8 410.63h-1.8M51.1 408.87h1.8M320.8 408.87h-1.8M51.1 407.31h1.8M320.8 407.31h-1.8M51.1 396.76h1.8M320.8 396.76h-1.8M51.1 391.40h1.8M320.8 391.40h-1.8M51.1 387.59h1.8M320.8 387.59h-1.8M51.1 384.64h1.8M320.8 384.64h-1.8M51.1 382.23h1.8M320.8 382.23h-1.8M51.1 380.20h1.8M320.8 380.20h-1.8M51.1 378.43h1.8M320.8 378.43h-1.8M51.1 376.87h1.8M320.8 376.87h-1.8M51.1 366.32h1.8M320.8 366.32h-1.8M51.1 360.96h1.8M320.8 360.96h-1.8M51.1 357.15h1.8M320.8 357.15h-1.8" stroke="#555" stroke-width="0.6" fill="none"/>
<path d="M51.5 355.5V624.0M320.5 355.5V624.0M51.0 356.0H321.0M51.0 623.5H321.0" stroke="#333" stroke-width="1" fill="none"/>
<text x="43.40" y="619.39" textLength="4.3" lengthAdjust="spacingAndGlyphs" style="font-family:'Liberation Serif',serif;font-size:9px" stroke="#000" stroke-width="0.25">8</text>
<text x="31.30" y="624.49" textLength="11.6" lengthAdjust="spacingAndGlyphs" style="font-family:'Liberation Serif',serif;font-size:13.0px" stroke="#000" stroke-width="0.2">10</text>
<text x="43.40" y="588.95" textLength="4.3" lengthAdjust="spacingAndGlyphs" style="font-family:'Liberation Serif',serif;font-size:9px" stroke="#000" stroke-width="0.25">9</text>
<text x="31.30" y="594.05" textLength="11.6" lengthAdjust="spacingAndGlyphs" style="font-family:'Liberation Serif',serif;font-size:13.0px" stroke="#000" stroke-width="0.2">10</text>
<text x="38.70" y="558.51" textLength="9.0" lengthAdjust="spacingAndGlyphs" style="font-family:'Liberation Serif',serif;font-size:9px" stroke="#000" stroke-width="0.25">10</text>
<text x="26.60" y="563.61" textLength="11.6" lengthAdjust="spacingAndGlyphs" style="font-family:'Liberation Serif',serif;font-size:13.0px" stroke="#000" stroke-width="0.2">10</text>
<text x="38.70" y="528.07" textLength="9.0" lengthAdjust="spacingAndGlyphs" style="font-family:'Liberation Serif',serif;font-size:9px" stroke="#000" stroke-width="0.25">11</text>
<text x="26.60" y="533.17" textLength="11.6" lengthAdjust="spacingAndGlyphs" style="font-family:'Liberation Serif',serif;font-size:13.0px" stroke="#000" stroke-width="0.2">10</text>
<text x="38.70" y="497.63" textLength="9.0" lengthAdjust="spacingAndGlyphs" style="font-family:'Liberation Serif',serif;font-size:9px" stroke="#000" stroke-width="0.25">12</text>
<text x="26.60" y="502.73" textLength="11.6" lengthAdjust="spacingAndGlyphs" style="font-family:'Liberation Serif',serif;font-size:13.0px" stroke="#000" stroke-width="0.2">10</text>
<text x="38.70" y="467.20" textLength="9.0" lengthAdjust="spacingAndGlyphs" style="font-family:'Liberation Serif',serif;font-size:9px" stroke="#000" stroke-width="0.25">13</text>
<text x="26.60" y="472.30" textLength="11.6" lengthAdjust="spacingAndGlyphs" style="font-family:'Liberation Serif',serif;font-size:13.0px" stroke="#000" stroke-width="0.2">10</text>
<text x="38.70" y="436.76" textLength="9.0" lengthAdjust="spacingAndGlyphs" style="font-family:'Liberation Serif',serif;font-size:9px" stroke="#000" stroke-width="0.25">14</text>
<text x="26.60" y="441.86" textLength="11.6" lengthAdjust="spacingAndGlyphs" style="font-family:'Liberation Serif',serif;font-size:13.0px" stroke="#000" stroke-width="0.2">10</text>
<text x="38.70" y="406.32" textLength="9.0" lengthAdjust="spacingAndGlyphs" style="font-family:'Liberation Serif',serif;font-size:9px" stroke="#000" stroke-width="0.25">15</text>
<text x="26.60" y="411.42" textLength="11.6" lengthAdjust="spacingAndGlyphs" style="font-family:'Liberation Serif',serif;font-size:13.0px" stroke="#000" stroke-width="0.2">10</text>
<text x="38.70" y="375.88" textLength="9.0" lengthAdjust="spacingAndGlyphs" style="font-family:'Liberation Serif',serif;font-size:9px" stroke="#000" stroke-width="0.25">16</text>
<text x="26.60" y="380.98" textLength="11.6" lengthAdjust="spacingAndGlyphs" style="font-family:'Liberation Serif',serif;font-size:13.0px" stroke="#000" stroke-width="0.2">10</text>
<text transform="translate(61.86,637.50) rotate(-45)" text-anchor="middle" dy="4.4" style="font-family:'Liberation Serif',serif;font-size:13px" stroke="#000" stroke-width="0.25">100</text>
<text transform="translate(80.72,637.50) rotate(-45)" text-anchor="middle" dy="4.4" style="font-family:'Liberation Serif',serif;font-size:13px" stroke="#000" stroke-width="0.25">150</text>
<text transform="translate(99.58,637.50) rotate(-45)" text-anchor="middle" dy="4.4" style="font-family:'Liberation Serif',serif;font-size:13px" stroke="#000" stroke-width="0.25">200</text>
<text transform="translate(118.44,637.50) rotate(-45)" text-anchor="middle" dy="4.4" style="font-family:'Liberation Serif',serif;font-size:13px" stroke="#000" stroke-width="0.25">250</text>
<text transform="translate(137.30,637.50) rotate(-45)" text-anchor="middle" dy="4.4" style="font-family:'Liberation Serif',serif;font-size:13px" stroke="#000" stroke-width="0.25">300</text>
<text transform="translate(156.16,637.50) rotate(-45)" text-anchor="middle" dy="4.4" style="font-family:'Liberation Serif',serif;font-size:13px" stroke="#000" stroke-width="0.25">350</text>
<text transform="translate(175.02,637.50) rotate(-45)" text-anchor="middle" dy="4.4" style="font-family:'Liberation Serif',serif;font-size:13px" stroke="#000" stroke-width="0.25">400</text>
<text transform="translate(193.88,637.50) rotate(-45)" text-anchor="middle" dy="4.4" style="font-family:'Liberation Serif',serif;font-size:13px" stroke="#000" stroke-width="0.25">450</text>
<text transform="translate(212.74,637.50) rotate(-45)" text-anchor="middle" dy="4.4" style="font-family:'Liberation Serif',serif;font-size:13px" stroke="#000" stroke-width="0.25">500</text>
<text transform="translate(231.60,637.50) rotate(-45)" text-anchor="middle" dy="4.4" style="font-family:'Liberation Serif',serif;font-size:13px" stroke="#000" stroke-width="0.25">550</text>
<text transform="translate(250.46,637.50) rotate(-45)" text-anchor="middle" dy="4.4" style="font-family:'Liberation Serif',serif;font-size:13px" stroke="#000" stroke-width="0.25">600</text>
<text transform="translate(269.32,637.50) rotate(-45)" text-anchor="middle" dy="4.4" style="font-family:'Liberation Serif',serif;font-size:13px" stroke="#000" stroke-width="0.25">650</text>
<text transform="translate(288.18,637.50) rotate(-45)" text-anchor="middle" dy="4.4" style="font-family:'Liberation Serif',serif;font-size:13px" stroke="#000" stroke-width="0.25">700</text>
<text transform="translate(307.04,637.50) rotate(-45)" text-anchor="middle" dy="4.4" style="font-family:'Liberation Serif',serif;font-size:13px" stroke="#000" stroke-width="0.25">750</text>
<text x="88.10" y="664.00" textLength="47.70" lengthAdjust="spacingAndGlyphs" style="font-family:'Liberation Sans',sans-serif;font-size:13.8px">number</text>
<text x="141.90" y="664.00" textLength="10.80" lengthAdjust="spacingAndGlyphs" style="font-family:'Liberation Sans',sans-serif;font-size:13.8px">of</text>
<text x="158.30" y="664.00" textLength="52.00" lengthAdjust="spacingAndGlyphs" style="font-family:'Liberation Sans',sans-serif;font-size:13.8px">samples</text>
<text x="216.40" y="664.00" textLength="18.10" lengthAdjust="spacingAndGlyphs" style="font-family:'Liberation Sans',sans-serif;font-size:13.8px">per</text>
<text x="240.60" y="664.00" textLength="40.40" lengthAdjust="spacingAndGlyphs" style="font-family:'Liberation Sans',sans-serif;font-size:13.8px">period</text>
<g transform="translate(20.5,0) rotate(-90)">
<text x="-546.90" y="0" textLength="55.30" lengthAdjust="spacingAndGlyphs" style="font-family:'Liberation Sans',sans-serif;font-size:14.5px">condition</text>
<text x="-486.60" y="0" textLength="53.30" lengthAdjust="spacingAndGlyphs" style="font-family:'Liberation Sans',sans-serif;font-size:14.5px">number</text>
</g>
<polygon points="355.00,473.95 352.05,479.85 357.95,479.85" fill="#e4081c" fill-opacity="0.85" stroke="#e4081c" stroke-opacity="0.85" stroke-width="1"/>
<text x="385.00" y="482.30" textLength="28.10" lengthAdjust="spacingAndGlyphs" style="font-family:'Liberation Sans',sans-serif;font-size:14px" stroke="#000" stroke-width="0.2">time</text>
<circle cx="355.00" cy="500.60" r="2.95" fill="#1f1f1f" fill-opacity="0.85" stroke="#1f1f1f" stroke-opacity="0.85" stroke-width="1"/>
<text x="384.60" y="506.00" textLength="50.20" lengthAdjust="spacingAndGlyphs" style="font-family:'Liberation Sans',sans-serif;font-size:14px" stroke="#000" stroke-width="0.2">spectral</text>
</svg></body></html>
